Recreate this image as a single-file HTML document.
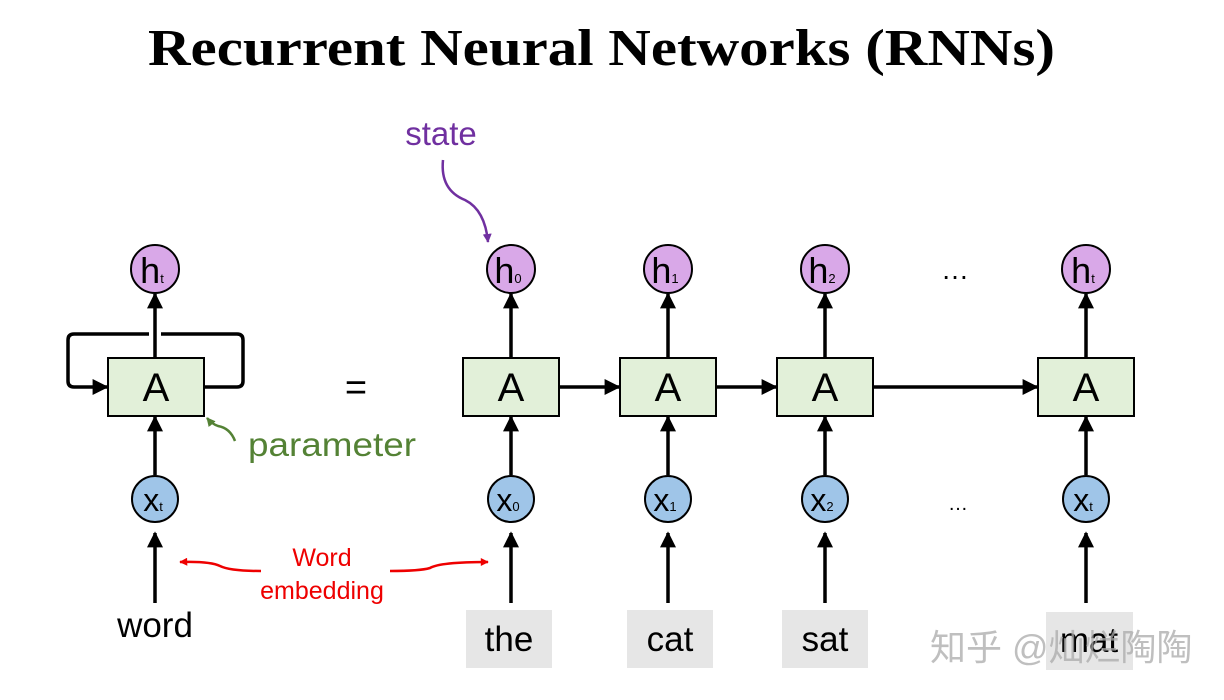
<!DOCTYPE html>
<html><head><meta charset="utf-8"><style>
body{margin:0;background:#fff;}
svg text{font-family:"Liberation Sans","DejaVu Sans",sans-serif;}
</style></head><body>
<svg width="1224" height="695" viewBox="0 0 1224 695" xmlns="http://www.w3.org/2000/svg">
<defs>
<marker id="ab" viewBox="0 0 10 10" markerWidth="18" markerHeight="16" refX="9" refY="5" orient="auto" markerUnits="userSpaceOnUse"><path d="M0,0 L10,5 L0,10 z" fill="#000"/></marker>
<marker id="ap" viewBox="0 0 10 10" markerWidth="9" markerHeight="9" refX="9" refY="5" orient="auto" markerUnits="userSpaceOnUse"><path d="M0,0 L10,5 L0,10 z" fill="#7030a0"/></marker>
<marker id="ag" viewBox="0 0 10 10" markerWidth="9" markerHeight="9" refX="9" refY="5" orient="auto" markerUnits="userSpaceOnUse"><path d="M0,0 L10,5 L0,10 z" fill="#548235"/></marker>
<marker id="ared" viewBox="0 0 10 10" markerWidth="9" markerHeight="8" refX="9" refY="5" orient="auto" markerUnits="userSpaceOnUse"><path d="M0,0 L10,5 L0,10 z" fill="#e00"/></marker>
</defs>
<text x="148" y="65" textLength="907" lengthAdjust="spacingAndGlyphs" style="font-family:'Liberation Serif',serif;font-weight:bold;font-size:52px">Recurrent Neural Networks (RNNs)</text>

<!-- left folded -->
<g stroke="#000" stroke-width="3.5" fill="none">
<path d="M204,387 H237 Q243,387 243,381 V340 Q243,334 237,334 H161"/>
<path d="M149,334 H74 Q68,334 68,340 V381 Q68,387 74,387 H107" marker-end="url(#ab)"/>
<line x1="155" y1="358" x2="155" y2="294" marker-end="url(#ab)"/>
<line x1="155" y1="475" x2="155" y2="417" marker-end="url(#ab)"/>
<line x1="155" y1="603" x2="155" y2="533" marker-end="url(#ab)"/>
</g>
<rect x="108" y="358" width="96" height="58" fill="#e2f0d9" stroke="#000" stroke-width="2"/>
<text x="156" y="401" text-anchor="middle" font-size="40">A</text>
<circle cx="155" cy="269" r="24" fill="#d9a8e8" stroke="#000" stroke-width="2"/>
<text x="152" y="283" text-anchor="middle" font-size="36">h<tspan font-size="13">t</tspan></text>
<circle cx="155" cy="499" r="23" fill="#9fc5e8" stroke="#000" stroke-width="2"/>
<text x="153" y="511" text-anchor="middle" font-size="32">x<tspan font-size="13">t</tspan></text>
<text x="155" y="637" text-anchor="middle" font-size="35">word</text>

<text x="356" y="400" text-anchor="middle" font-size="38">=</text>

<!-- parameter -->
<path d="M235,441 Q230,428 218,426 Q212,424 207,418" stroke="#548235" stroke-width="2.5" fill="none" marker-end="url(#ag)"/>
<text x="248" y="456" font-size="33" fill="#548235" textLength="168" lengthAdjust="spacingAndGlyphs">parameter</text>

<!-- state -->
<text x="441" y="145" text-anchor="middle" font-size="33" fill="#7030a0">state</text>
<path d="M443,160 Q440,190 465,200 Q485,210 488,242" stroke="#7030a0" stroke-width="2.5" fill="none" marker-end="url(#ap)"/>

<!-- word embedding -->
<text x="322" y="566" text-anchor="middle" font-size="25" fill="#e00">Word</text>
<text x="322" y="599" text-anchor="middle" font-size="25" fill="#e00">embedding</text>
<path d="M261,571 Q230,571 220,566 Q210,561 180,562" stroke="#e00" stroke-width="2.5" fill="none" marker-end="url(#ared)"/>
<path d="M390,571 Q420,571 430,568 Q440,562 488,562" stroke="#e00" stroke-width="2.5" fill="none" marker-end="url(#ared)"/>

<!-- unrolled -->
<g stroke="#000" stroke-width="3.5" fill="none">
<line x1="559" y1="387" x2="619" y2="387" marker-end="url(#ab)"/>
<line x1="716" y1="387" x2="776" y2="387" marker-end="url(#ab)"/>
<line x1="873" y1="387" x2="1037" y2="387" marker-end="url(#ab)"/>
<line x1="511" y1="358" x2="511" y2="294" marker-end="url(#ab)"/>
<line x1="511" y1="475" x2="511" y2="417" marker-end="url(#ab)"/>
<line x1="511" y1="603" x2="511" y2="533" marker-end="url(#ab)"/>
<line x1="668" y1="358" x2="668" y2="294" marker-end="url(#ab)"/>
<line x1="668" y1="475" x2="668" y2="417" marker-end="url(#ab)"/>
<line x1="668" y1="603" x2="668" y2="533" marker-end="url(#ab)"/>
<line x1="825" y1="358" x2="825" y2="294" marker-end="url(#ab)"/>
<line x1="825" y1="475" x2="825" y2="417" marker-end="url(#ab)"/>
<line x1="825" y1="603" x2="825" y2="533" marker-end="url(#ab)"/>
<line x1="1086" y1="358" x2="1086" y2="294" marker-end="url(#ab)"/>
<line x1="1086" y1="475" x2="1086" y2="417" marker-end="url(#ab)"/>
<line x1="1086" y1="603" x2="1086" y2="533" marker-end="url(#ab)"/>
</g>
<g fill="#e2f0d9" stroke="#000" stroke-width="2">
<rect x="463" y="358" width="96" height="58"/>
<rect x="620" y="358" width="96" height="58"/>
<rect x="777" y="358" width="96" height="58"/>
<rect x="1038" y="358" width="96" height="58"/>
</g>
<g font-size="40" text-anchor="middle">
<text x="511" y="401">A</text><text x="668" y="401">A</text><text x="825" y="401">A</text><text x="1086" y="401">A</text>
</g>
<g fill="#d9a8e8" stroke="#000" stroke-width="2">
<circle cx="511" cy="269" r="24"/><circle cx="668" cy="269" r="24"/><circle cx="825" cy="269" r="24"/><circle cx="1086" cy="269" r="24"/>
</g>
<g font-size="36" text-anchor="middle">
<text x="508" y="283">h<tspan font-size="13">0</tspan></text>
<text x="665" y="283">h<tspan font-size="13">1</tspan></text>
<text x="822" y="283">h<tspan font-size="13">2</tspan></text>
<text x="1083" y="283">h<tspan font-size="13">t</tspan></text>
</g>
<g fill="#9fc5e8" stroke="#000" stroke-width="2">
<circle cx="511" cy="499" r="23"/><circle cx="668" cy="499" r="23"/><circle cx="825" cy="499" r="23"/><circle cx="1086" cy="499" r="23"/>
</g>
<g font-size="32" text-anchor="middle">
<text x="508" y="511">x<tspan font-size="13">0</tspan></text>
<text x="665" y="511">x<tspan font-size="13">1</tspan></text>
<text x="822" y="511">x<tspan font-size="13">2</tspan></text>
<text x="1083" y="511">x<tspan font-size="13">t</tspan></text>
</g>
<text x="955" y="279" text-anchor="middle" font-size="28">…</text>
<text x="958" y="510" text-anchor="middle" font-size="20">…</text>

<g fill="#e6e6e6">
<rect x="466" y="610" width="86" height="58"/>
<rect x="627" y="610" width="86" height="58"/>
<rect x="782" y="610" width="86" height="58"/>
<rect x="1046" y="612" width="87" height="58"/>
</g>
<g font-size="35" text-anchor="middle">
<text x="509" y="651">the</text><text x="670" y="651">cat</text><text x="825" y="651">sat</text><text x="1089" y="652">mat</text>
</g>
<text x="930" y="660" font-size="36" fill="#aaa" fill-opacity="0.75" style="font-family:'Liberation Sans','Noto Sans CJK SC',sans-serif">知乎 @灿烂陶陶</text>
</svg>
</body></html>
